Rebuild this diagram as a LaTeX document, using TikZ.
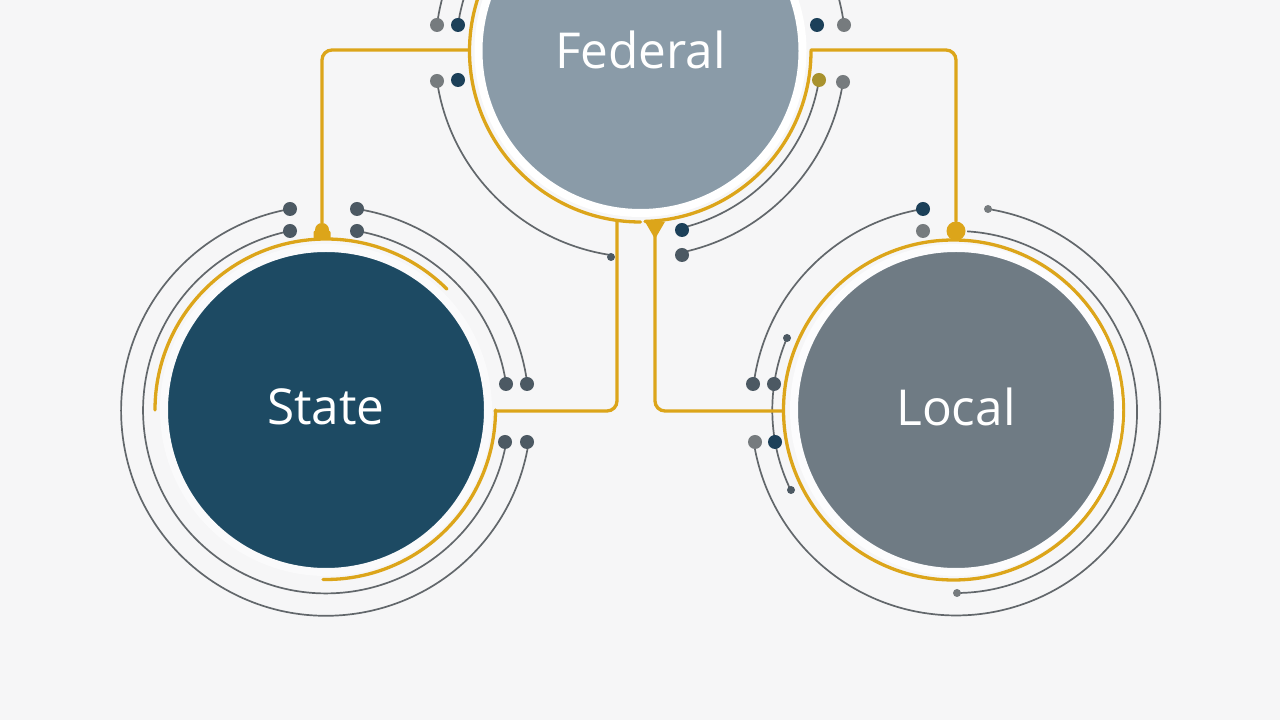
\documentclass[tikz,border=0pt]{standalone}
\usepackage{fontspec}
\setmainfont{Open Sans}
\usetikzlibrary{backgrounds,shapes.geometric}

\definecolor{paper}{HTML}{F6F6F7}
\definecolor{gold}{HTML}{DCA51A}
\definecolor{wire}{HTML}{62676B}
\definecolor{navy}{HTML}{1D4A63}
\definecolor{slateblue}{HTML}{8A9BA8}
\definecolor{slategray}{HTML}{6F7B84}
\definecolor{deepdot}{HTML}{1C4059}
\definecolor{darkdot}{HTML}{4C5963}
\definecolor{greydot}{HTML}{767B7E}
\definecolor{olivedot}{HTML}{A8922E}

\tikzset{
  hub/.style={circle,fill=#1,draw=white,line width=8pt,outer sep=0pt,inner sep=0pt,
    minimum size=324pt,text=white,font=\fontsize{49.5}{58}\selectfont,text depth=7pt},
  bead/.style={circle,fill=#1,inner sep=0pt,minimum size=14pt},
  tinybead/.style={circle,fill=#1,inner sep=0pt,minimum size=8pt},
  ring/.style={draw=wire,line width=1.7pt},
  goldline/.style={draw=gold,line width=3.3pt,line cap=round},
  link/.style={goldline,rounded corners=10pt}
}

\begin{document}
\begin{tikzpicture}[x=1pt,y=1pt]

          \useasboundingbox (0,0) rectangle (1280,720);

          \node[hub=slateblue,text depth=3pt] (federal) at (640.5,669) {Federal};
          \node[hub=navy,draw=paper!50!white] (state) at (326,310) {State};
          \node[hub=slategray,draw=paper!30!white] (local) at (956,310) {Local};

          % dots round federal
          \node[bead=greydot] (f1) at (437,695) {};
          \node[bead=deepdot] (f2) at (458,695) {};
          \node[bead=deepdot] (f3) at (817,695) {};
          \node[bead=greydot] (f4) at (844,695) {};
          \node[bead=greydot] (f5) at (437,639) {};
          \node[bead=deepdot] (f6) at (458,640) {};
          \node[bead=olivedot] (f7) at (819,640) {};
          \node[bead=greydot] (f8) at (843,638) {};
          \node[bead=deepdot] (f9) at (682,490) {};
          \node[bead=darkdot] (f10) at (682,465) {};
          \node[tinybead=darkdot] (f11) at (611,463) {};

          % dots round state
          \node[bead=darkdot] (s1) at (290,511) {};
          \node[bead=darkdot] (s2) at (290,489) {};
          \node[bead=darkdot] (s3) at (357,511) {};
          \node[bead=darkdot] (s4) at (357,489) {};
          \node[bead=darkdot] (s5) at (506,336) {};
          \node[bead=darkdot] (s6) at (527,336) {};
          \node[bead=darkdot] (s7) at (505,278) {};
          \node[bead=darkdot] (s8) at (527,278) {};

          % dots round local
          \node[bead=deepdot] (l1) at (923,511) {};
          \node[bead=greydot] (l2) at (923,489) {};
          \node[tinybead=greydot] (l3) at (988,511) {};
          \node[tinybead=darkdot] (l4) at (787,382) {};
          \node[bead=darkdot] (l5) at (753,336) {};
          \node[bead=darkdot] (l6) at (774,336) {};
          \node[bead=greydot] (l7) at (755,278) {};
          \node[bead=deepdot] (l8) at (775,278) {};
          \node[tinybead=darkdot] (l9) at (791,230) {};
          \node[tinybead=greydot] (l10) at (957,127) {};

          % ports on the rings
          \node[bead=gold,minimum size=14pt] (stateport) at (322,490) {};
          \node[fill=gold,inner sep=0pt,minimum width=17pt,minimum height=9pt,rounded corners=2pt] (statebase) at (322,485) {};
          \node[bead=gold,minimum size=19pt] (localport) at (956,489) {};
          \node[regular polygon,regular polygon sides=3,shape border rotate=180,fill=gold,
            inner sep=0pt,minimum size=23pt] (fedtri) at (655,492.5) {};
          \coordinate (fedleft) at (468.5,670);
          \coordinate (fedright) at (811,670);
          \coordinate (fedbottom) at (617,498);
          \coordinate (statein) at (495,309);
          \coordinate (localin) at (783,309);

          \begin{scope}[on background layer]
            \fill[paper] (0,0) rectangle (1280,720);

            \path[ring] (f1.center) arc[start angle=172.7,end angle=160,radius=205];
            \path[ring] (f2.center) arc[start angle=171.9,end angle=158,radius=184];
            \path[ring] (f4.center) arc[start angle=7.3,end angle=20,radius=205];
            \path[ring] (f5.center) arc[start angle=188.4,end angle=261.8,radius=206.5];
            \path[ring] (f7.center) arc[start angle=-9.2,end angle=-76.9,radius=182];
            \path[ring] (f8.center) arc[start angle=-8.7,end angle=-78.5,radius=206];

            \path[ring] (s1.center) arc[start angle=100.15,end angle=350.95,radius=205];
            \path[ring] (s2.center) arc[start angle=101.37,end angle=349.86,radius=183];
            \path[ring] (s3.center) arc[start angle=81.2,end angle=7.37,radius=203];
            \path[ring] (s4.center) arc[start angle=80.2,end angle=8.2,radius=182];

            \path[ring] (l1.center) arc[start angle=99.3,end angle=172.7,radius=204];
            \path[ring] (l3.center) arc[start angle=80.95,end angle=-170.95,radius=204.5];
            \path[ring] (l10.center) arc[start angle=-89.7,end angle=86.5,radius=181];
            \path[ring] (l4.center) arc[start angle=156.9,end angle=205.9,radius=183.5];

            \path[goldline] (federal.center) ++(-90:171) arc[start angle=-90,end angle=-210,radius=171];
            \path[goldline] (federal.center) ++(0:170.5) arc[start angle=0,end angle=-88.5,radius=170.5];
            \path[goldline] (state.center) ++(180:171) arc[start angle=180,end angle=45,radius=171];
            \path[goldline] (state.center) ++(0:169.5) arc[start angle=0,end angle=-91,radius=169.5];
            \path[goldline] (local.center) ++(-2.5,0) circle[radius=170];
          \end{scope}

          \path[link] (stateport) |- (fedleft);
          \path[link] (fedright) -| (localport);
          \path[link] (fedbottom) |- (statein);
          \path[link] (fedtri.center) |- (localin);

        \end{tikzpicture}
\end{document}
